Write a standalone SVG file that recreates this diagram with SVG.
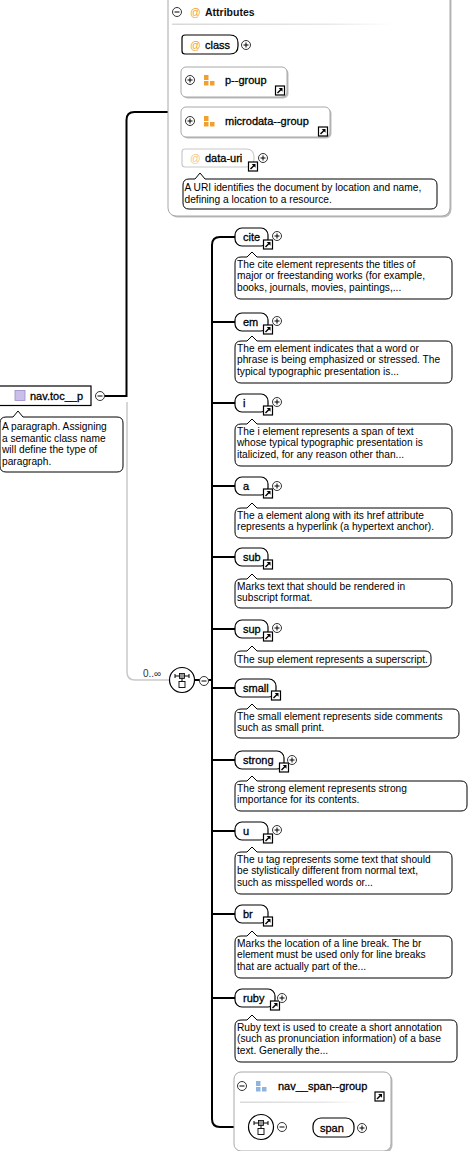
<svg xmlns="http://www.w3.org/2000/svg" width="474" height="1151" viewBox="0 0 474 1151">
<style>
.ln{fill:none;stroke:#000;stroke-width:2}
.gl{fill:none;stroke:#c9c9c9;stroke-width:1.5}
.el{fill:#fff;stroke:#000;stroke-width:1.2}
.at2{fill:#fff;stroke:#c8c8c8;stroke-width:1.2}
.tt{fill:#fff;stroke:#000;stroke-width:1}
.grp{fill:#fff;stroke:#a8a8a8;stroke-width:1}
.sh{fill:#bdbdbd}
.tx{font-family:"Liberation Sans",Arial,sans-serif;font-size:10.2px;fill:#000}
.nm{font-family:"Liberation Sans",Arial,sans-serif;font-size:11px;fill:#000;stroke:#000;stroke-width:0.3}
.hd{font-family:"Liberation Sans",Arial,sans-serif;font-size:10.5px;font-weight:bold;fill:#111}
.at{font-family:"Liberation Sans",Arial,sans-serif;font-size:10.5px;fill:#f0a030}
.oc{font-family:"Liberation Sans",Arial,sans-serif;font-size:10px;fill:#333}
</style>
<defs>
<g id="plus"><circle r="4.5" fill="#fff" stroke="#333" stroke-width="1"/><path d="M-2.5,0H2.5M0,-2.5V2.5" stroke="#000" stroke-width="1"/></g>
<g id="minus"><circle r="4.5" fill="#fff" stroke="#333" stroke-width="1"/><path d="M-2.5,0H2.5" stroke="#000" stroke-width="1"/></g>
<g id="lnk"><rect x="0" y="0" width="9" height="9" fill="#fff" stroke="#000" stroke-width="1.2"/><path d="M2,7L6,3" stroke="#000" stroke-width="1.4"/><path d="M3.2,2H7V5.8Z" fill="#000"/></g>
<g id="seq"><circle r="12.5" fill="#fff" stroke="#000" stroke-width="1.2"/><path d="M-7,-4H7M-7,-6V-2M7,-6V-2M0,-1.5V1.5" stroke="#000" stroke-width="1"/><rect x="-2.5" y="-6.5" width="5" height="5" fill="#999" stroke="#000" stroke-width="0.8"/><rect x="-3" y="1.5" width="6" height="6" fill="#fff" stroke="#000" stroke-width="0.9"/></g>
<g id="gicoO" fill="#f0a030"><rect x="0" y="0" width="4.5" height="5"/><rect x="0" y="6" width="4.5" height="4.5"/><rect x="6" y="6" width="4.5" height="4.5"/></g>
<g id="gicoB" fill="#8fb4e0"><rect x="0" y="0" width="4.5" height="5"/><rect x="0" y="6" width="4.5" height="4.5"/><rect x="6" y="6" width="4.5" height="4.5"/></g>
<linearGradient id="sep" x1="0" x2="1" y1="0" y2="0"><stop offset="0" stop-color="#d8d8d8"/><stop offset="0.7" stop-color="#e8e8e8"/><stop offset="1" stop-color="#fff"/></linearGradient>
</defs>

<g id="connectors">
<path class="ln" d="M95.5,396H126.5V120Q126.5,112 134.5,112H168"/>
<path class="gl" d="M127,402V672Q127,680 135,680H169.5"/>
<path class="ln" d="M195,680H212"/>
<path class="ln" d="M235,237H220Q212,237 212,245V1119Q212,1127 220,1127H248.5"/>
<path class="ln" d="M212,322H235M212,403H235M212,486H235M212,557H235M212,629H235M212,688H235M212,760H235M212,831H235M212,914H235M212,998H235"/>
<path class="ln" d="M286.5,1127H313" stroke-width="1.5"/>
</g>

<g id="attributes">
<rect class="sh" x="169.5" y="-10" width="282" height="227.5" rx="8"/>
<rect class="grp" x="168" y="-10" width="282" height="226" rx="8"/>
<use href="#minus" x="177" y="12"/>
<text class="at" x="190" y="16">@</text>
<text class="hd" x="205" y="16">Attributes</text>
<rect x="172" y="23.5" width="220" height="1.5" fill="url(#sep)"/>
</g>

<g id="attr-class">
<path class="el" d="M185,35H230Q238,35 238,43V46Q238,54 230,54H185Q182,54 182,51V38Q182,35 185,35Z"/>
<text class="at" x="190" y="48.5">@</text>
<text class="nm" x="205" y="48.5">class</text>
<use href="#plus" x="246" y="45"/>
</g>

<g id="p-group">
<rect class="sh" x="182.5" y="68.5" width="106" height="30" rx="5"/>
<rect class="grp" x="181" y="67" width="106" height="30" rx="5"/>
<use href="#plus" x="190" y="80"/>
<use href="#gicoO" x="204" y="75"/>
<text class="nm" x="225" y="84">p--group</text>
<use href="#lnk" x="275.5" y="86"/>
</g>

<g id="microdata-group">
<rect class="sh" x="182.5" y="108.5" width="149" height="30" rx="5"/>
<rect class="grp" x="181" y="107" width="149" height="30" rx="5"/>
<use href="#plus" x="190" y="121"/>
<use href="#gicoO" x="204" y="116"/>
<text class="nm" x="225" y="125">microdata--group</text>
<use href="#lnk" x="318.5" y="127"/>
</g>

<g id="attr-data-uri">
<path class="at2" d="M185,149H246Q254,149 254,157V159Q254,167 246,167H185Q182,167 182,164V152Q182,149 185,149Z"/>
<text class="at" x="190" y="162" style="fill:#f4c48c">@</text>
<text class="nm" x="205" y="162">data-uri</text>
<use href="#lnk" x="248.5" y="162"/>
<use href="#plus" x="263" y="158"/>
<path class="tt" d="M189,179H195L200,173L205,179H431Q437,179 437,185V203Q437,209 431,209H189Q183,209 183,203V185Q183,179 189,179Z"/>
<text class="tx" x="184.5" y="191">A URI identifies the document by location and name,</text>
<text class="tx" x="184.5" y="203">defining a location to a resource.</text>
</g>

<g id="nav-toc-p">
<rect class="el" x="-1" y="386" width="92" height="19.5" fill="#fff"/>
<rect x="15" y="390.5" width="10" height="10" fill="#cabfe8" stroke="#9a8cc8" stroke-width="0.8"/>
<text class="nm" x="30" y="400">nav.toc__p</text>
<use href="#minus" x="100" y="396"/>
<path class="tt" d="M6,417H13L18,411L23,417H117Q123,417 123,423V466Q123,472 117,472H6Q0,472 0,466V423Q0,417 6,417Z"/>
<text class="tx" x="2" y="430">A paragraph. Assigning</text>
<text class="tx" x="2" y="441.5">a semantic class name</text>
<text class="tx" x="2" y="453">will define the type of</text>
<text class="tx" x="2" y="464.5">paragraph.</text>
</g>

<g id="sequence">
<text class="oc" x="143" y="677">0..∞</text>
<use href="#seq" x="182" y="680"/>
<use href="#minus" x="204" y="681"/>
</g>

<g id="cite">
<rect class="el" x="235" y="228" width="33" height="18" rx="7"/>
<text class="nm" x="243" y="241">cite</text>
<use href="#lnk" x="263.5" y="240"/>
<use href="#plus" x="277" y="236"/>
<path class="tt" d="M241,257H247L252,252L257,257H446Q452,257 452,263V293Q452,299 446,299H241Q235,299 235,293V263Q235,257 241,257Z"/>
<text class="tx" x="237" y="267.5">The cite element represents the titles of</text>
<text class="tx" x="237" y="279">major or freestanding works (for example,</text>
<text class="tx" x="237" y="290.5">books, journals, movies, paintings,...</text>
</g>

<g id="em">
<rect class="el" x="235" y="313" width="33" height="18" rx="7"/>
<text class="nm" x="243" y="326">em</text>
<use href="#lnk" x="263.5" y="325"/>
<use href="#plus" x="277" y="321"/>
<path class="tt" d="M241,341H247L252,336L257,341H446Q452,341 452,347V377Q452,383 446,383H241Q235,383 235,377V347Q235,341 241,341Z"/>
<text class="tx" x="237" y="351.5">The em element indicates that a word or</text>
<text class="tx" x="237" y="363">phrase is being emphasized or stressed. The</text>
<text class="tx" x="237" y="374.5">typical typographic presentation is...</text>
</g>

<g id="i">
<rect class="el" x="235" y="394" width="33" height="18" rx="7"/>
<text class="nm" x="243" y="407">i</text>
<use href="#lnk" x="263.5" y="406"/>
<use href="#plus" x="277" y="402"/>
<path class="tt" d="M241,424H247L252,419L257,424H446Q452,424 452,430V460Q452,466 446,466H241Q235,466 235,460V430Q235,424 241,424Z"/>
<text class="tx" x="237" y="434.5">The i element represents a span of text</text>
<text class="tx" x="237" y="446">whose typical typographic presentation is</text>
<text class="tx" x="237" y="457.5">italicized, for any reason other than...</text>
</g>

<g id="a">
<rect class="el" x="235" y="477" width="33" height="18" rx="7"/>
<text class="nm" x="243" y="490">a</text>
<use href="#lnk" x="263.5" y="489"/>
<use href="#plus" x="277" y="486"/>
<path class="tt" d="M241,508H247L252,503L257,508H446Q452,508 452,514V532Q452,538 446,538H241Q235,538 235,532V514Q235,508 241,508Z"/>
<text class="tx" x="237" y="518.5">The a element along with its href attribute</text>
<text class="tx" x="237" y="530">represents a hyperlink (a hypertext anchor).</text>
</g>

<g id="sub">
<rect class="el" x="235" y="548" width="33" height="18" rx="7"/>
<text class="nm" x="243" y="561">sub</text>
<use href="#lnk" x="263.5" y="560"/>
<path class="tt" d="M241,579H247L252,574L257,579H446Q452,579 452,585V602Q452,608 446,608H241Q235,608 235,602V585Q235,579 241,579Z"/>
<text class="tx" x="237" y="589.5">Marks text that should be rendered in</text>
<text class="tx" x="237" y="601">subscript format.</text>
</g>

<g id="sup">
<rect class="el" x="235" y="620" width="33" height="18" rx="7"/>
<text class="nm" x="243" y="633">sup</text>
<use href="#lnk" x="263.5" y="632"/>
<use href="#plus" x="277" y="628"/>
<path class="tt" d="M241,651H247L252,646L257,651H425Q431,651 431,657V661Q431,667 425,667H241Q235,667 235,661V657Q235,651 241,651Z"/>
<text class="tx" x="237" y="662.5">The sup element represents a superscript.</text>
</g>

<g id="small">
<rect class="el" x="235" y="679" width="41" height="18" rx="7"/>
<text class="nm" x="243" y="692">small</text>
<use href="#lnk" x="271.5" y="691"/>
<path class="tt" d="M241,709H247L252,704L257,709H453Q459,709 459,715V732Q459,738 453,738H241Q235,738 235,732V715Q235,709 241,709Z"/>
<text class="tx" x="237" y="719.5">The small element represents side comments</text>
<text class="tx" x="237" y="731">such as small print.</text>
</g>

<g id="strong">
<rect class="el" x="235" y="751" width="49" height="18" rx="7"/>
<text class="nm" x="243" y="764">strong</text>
<use href="#lnk" x="279.5" y="763"/>
<use href="#plus" x="292" y="760"/>
<path class="tt" d="M241,781H247L252,776L257,781H461Q467,781 467,787V805Q467,811 461,811H241Q235,811 235,805V787Q235,781 241,781Z"/>
<text class="tx" x="237" y="791.5">The strong element represents strong</text>
<text class="tx" x="237" y="803">importance for its contents.</text>
</g>

<g id="u">
<rect class="el" x="235" y="822" width="33" height="18" rx="7"/>
<text class="nm" x="243" y="835">u</text>
<use href="#lnk" x="263.5" y="834"/>
<use href="#plus" x="277" y="830"/>
<path class="tt" d="M241,852H247L252,847L257,852H446Q452,852 452,858V888Q452,894 446,894H241Q235,894 235,888V858Q235,852 241,852Z"/>
<text class="tx" x="237" y="862.5">The u tag represents some text that should</text>
<text class="tx" x="237" y="874">be stylistically different from normal text,</text>
<text class="tx" x="237" y="885.5">such as misspelled words or...</text>
</g>

<g id="br">
<rect class="el" x="235" y="905" width="33" height="18" rx="7"/>
<text class="nm" x="243" y="918">br</text>
<use href="#lnk" x="263.5" y="917"/>
<path class="tt" d="M241,936H247L252,931L257,936H446Q452,936 452,942V972Q452,978 446,978H241Q235,978 235,972V942Q235,936 241,936Z"/>
<text class="tx" x="237" y="946.5">Marks the location of a line break. The br</text>
<text class="tx" x="237" y="958">element must be used only for line breaks</text>
<text class="tx" x="237" y="969.5">that are actually part of the...</text>
</g>

<g id="ruby">
<rect class="el" x="235" y="989" width="40" height="18" rx="7"/>
<text class="nm" x="243" y="1002">ruby</text>
<use href="#lnk" x="270.5" y="1001"/>
<use href="#plus" x="282" y="998"/>
<path class="tt" d="M241,1020H247L252,1015L257,1020H451Q457,1020 457,1026V1056Q457,1062 451,1062H241Q235,1062 235,1056V1026Q235,1020 241,1020Z"/>
<text class="tx" x="237" y="1030.5">Ruby text is used to create a short annotation</text>
<text class="tx" x="237" y="1042">(such as pronunciation information) of a base</text>
<text class="tx" x="237" y="1053.5">text. Generally the...</text>
</g>

<g id="nav-span-group">
<rect class="sh" x="235.5" y="1073.5" width="157" height="79" rx="7"/>
<rect class="grp" x="234" y="1072" width="157" height="79" rx="7"/>
<use href="#minus" x="242" y="1086"/>
<use href="#gicoB" x="256" y="1081"/>
<text class="nm" x="278" y="1090">nav__span--group</text>
<use href="#lnk" x="375" y="1092"/>
<rect x="240" y="1101.5" width="120" height="1.5" fill="url(#sep)"/>
<use href="#seq" x="261" y="1127"/>
<use href="#minus" x="282" y="1127"/>
</g>

<g id="span">
<rect class="el" x="313" y="1118" width="41" height="19" rx="8"/>
<text class="nm" x="320" y="1131.5">span</text>
<use href="#plus" x="362" y="1128"/>
</g>
</svg>
